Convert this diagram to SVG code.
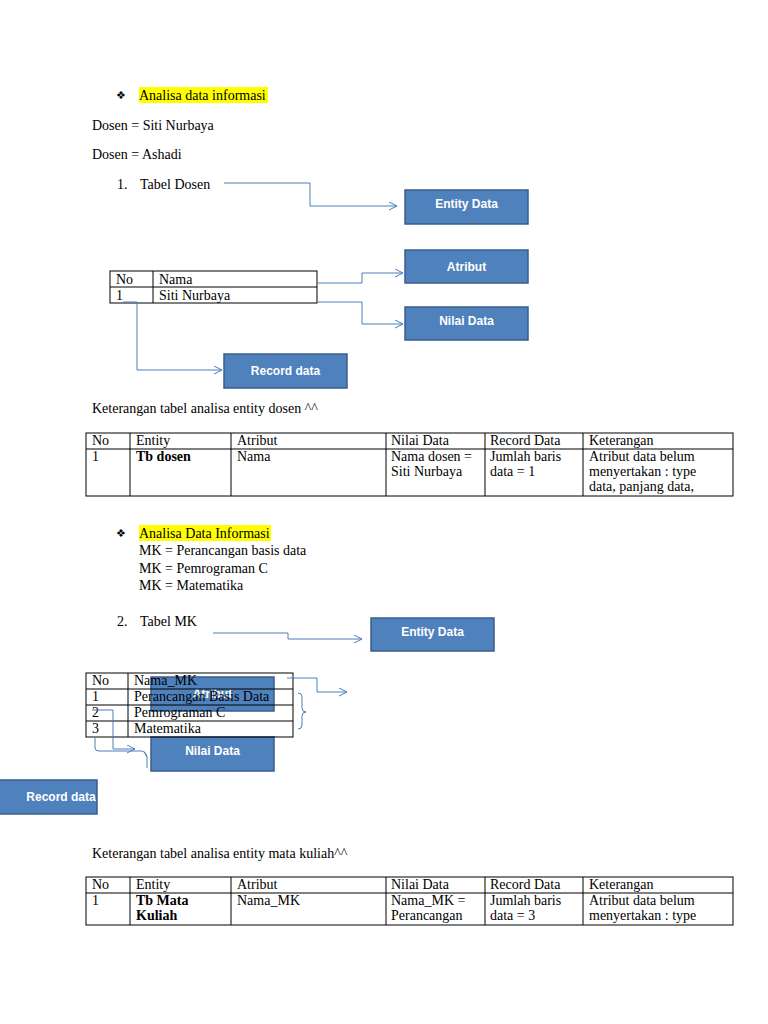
<svg xmlns="http://www.w3.org/2000/svg" width="768" height="1024" viewBox="0 0 768 1024">
<style>
.t{font-family:"Liberation Serif","Times New Roman",serif;font-size:14px;fill:#000}
.b{font-weight:bold}
.bul{font-family:"DejaVu Sans",sans-serif;font-size:11px;fill:#000}
.box{fill:#4f81bd;stroke:#385d8a;stroke-width:1.5}
.bl{font-family:"Liberation Sans",Arial,sans-serif;font-size:12px;font-weight:bold;fill:#fff;text-anchor:middle}
.tb{fill:none;stroke:#000;stroke-width:1}
.c{fill:none;stroke:#4a7ebb;stroke-width:1}
.hl{fill:#ffff00}
</style>
<defs>
<marker id="ar" markerWidth="10" markerHeight="10" refX="8" refY="4" orient="auto" markerUnits="userSpaceOnUse">
<path d="M0,0 L8,4 L0,8" fill="none" stroke="#4a7ebb" stroke-width="1"/>
</marker>
</defs>
<rect width="768" height="1024" fill="#fff"/>

<!-- Section 1 text -->
<text class="bul" x="116" y="99">❖</text>
<rect class="hl" x="139" y="87" width="129" height="16"/>
<text class="t" x="139" y="100">Analisa data informasi</text>
<text class="t" x="92" y="130">Dosen = Siti Nurbaya</text>
<text class="t" x="92" y="159">Dosen = Ashadi</text>
<text class="t" x="117" y="189">1.</text>
<text class="t" x="140" y="189">Tabel Dosen</text>

<!-- Table Dosen -->
<g id="tabel-dosen">
<rect class="tb" x="110" y="271" width="207" height="32"/>
<line class="tb" x1="110" y1="287" x2="317" y2="287"/>
<line class="tb" x1="153" y1="271" x2="153" y2="303"/>
<text class="t" x="116" y="284">No</text>
<text class="t" x="159" y="284">Nama</text>
<text class="t" x="116" y="300">1</text>
<text class="t" x="159" y="300">Siti Nurbaya</text>
</g>

<g id="entity-data-1"><rect class="box" x="405" y="190" width="123" height="34"/><text class="bl" x="466.5" y="208">Entity Data</text></g>
<g id="atribut-1"><rect class="box" x="405" y="250" width="123" height="33"/><text class="bl" x="466.5" y="271">Atribut</text></g>
<g id="nilai-data-1"><rect class="box" x="405" y="307" width="123" height="33"/><text class="bl" x="466.5" y="325">Nilai Data</text></g>
<g id="record-data-1"><rect class="box" x="224" y="354" width="123" height="34"/><text class="bl" x="285.5" y="375">Record data</text></g>

<text class="t" x="92" y="413">Keterangan tabel analisa entity dosen ^^</text>

<g id="tabel-keterangan-dosen">
<rect class="tb" x="86" y="433" width="647" height="63"/>
<line class="tb" x1="86" y1="449" x2="733" y2="449"/>
<line class="tb" x1="130" y1="433" x2="130" y2="496"/>
<line class="tb" x1="231" y1="433" x2="231" y2="496"/>
<line class="tb" x1="386" y1="433" x2="386" y2="496"/>
<line class="tb" x1="485" y1="433" x2="485" y2="496"/>
<line class="tb" x1="583" y1="433" x2="583" y2="496"/>
<text class="t" x="92" y="445">No</text>
<text class="t" x="136" y="445">Entity</text>
<text class="t" x="237" y="445">Atribut</text>
<text class="t" x="391" y="445">Nilai Data</text>
<text class="t" x="490" y="445">Record Data</text>
<text class="t" x="589" y="445">Keterangan</text>
<text class="t" x="92" y="461">1</text>
<text class="t b" x="136" y="461">Tb dosen</text>
<text class="t" x="237" y="461">Nama</text>
<text class="t" x="391" y="461">Nama dosen =</text>
<text class="t" x="391" y="476">Siti Nurbaya</text>
<text class="t" x="490" y="461">Jumlah baris</text>
<text class="t" x="490" y="476">data = 1</text>
<text class="t" x="589" y="461">Atribut data belum</text>
<text class="t" x="589" y="476">menyertakan : type</text>
<text class="t" x="589" y="491">data, panjang data,</text>
</g>

<!-- Section 2 text -->
<text class="bul" x="116" y="537">❖</text>
<rect class="hl" x="139" y="525" width="132" height="16"/>
<text class="t" x="139" y="538">Analisa Data Informasi</text>
<text class="t" x="139" y="555">MK = Perancangan basis data</text>
<text class="t" x="139" y="573">MK = Pemrograman C</text>
<text class="t" x="139" y="590">MK = Matematika</text>
<text class="t" x="117" y="626">2.</text>
<text class="t" x="140" y="626">Tabel MK</text>

<g id="entity-data-2"><rect class="box" x="371" y="618" width="123" height="33"/><text class="bl" x="432.5" y="636">Entity Data</text></g>
<g id="atribut-2"><rect class="box" x="151" y="677" width="123" height="34"/><text class="bl" x="212.5" y="698">Atribut</text></g>
<g id="nilai-data-2"><rect class="box" x="151" y="737" width="123" height="34"/><text class="bl" x="212.5" y="755">Nilai Data</text></g>
<g id="record-data-2"><rect class="box" x="-30" y="780" width="127" height="34"/><text class="bl" x="61" y="801">Record data</text></g>

<g id="tabel-mk">
<rect class="tb" x="86" y="673" width="207" height="64"/>
<line class="tb" x1="86" y1="689" x2="293" y2="689"/>
<line class="tb" x1="86" y1="705" x2="293" y2="705"/>
<line class="tb" x1="86" y1="721" x2="293" y2="721"/>
<line class="tb" x1="128" y1="673" x2="128" y2="737"/>
<text class="t" x="92" y="685">No</text>
<text class="t" x="134" y="685">Nama_MK</text>
<text class="t" x="92" y="701">1</text>
<text class="t" x="134" y="701">Perancangan Basis Data</text>
<text class="t" x="92" y="717">2</text>
<text class="t" x="134" y="717">Pemrograman C</text>
<text class="t" x="92" y="733">3</text>
<text class="t" x="134" y="733">Matematika</text>
</g>

<text class="t" x="92" y="858">Keterangan tabel analisa entity mata kuliah^^</text>

<g id="tabel-keterangan-mk">
<rect class="tb" x="86" y="877" width="647" height="48"/>
<line class="tb" x1="86" y1="893" x2="733" y2="893"/>
<line class="tb" x1="130" y1="877" x2="130" y2="925"/>
<line class="tb" x1="231" y1="877" x2="231" y2="925"/>
<line class="tb" x1="386" y1="877" x2="386" y2="925"/>
<line class="tb" x1="485" y1="877" x2="485" y2="925"/>
<line class="tb" x1="583" y1="877" x2="583" y2="925"/>
<text class="t" x="92" y="889">No</text>
<text class="t" x="136" y="889">Entity</text>
<text class="t" x="237" y="889">Atribut</text>
<text class="t" x="391" y="889">Nilai Data</text>
<text class="t" x="490" y="889">Record Data</text>
<text class="t" x="589" y="889">Keterangan</text>
<text class="t" x="92" y="905">1</text>
<text class="t b" x="136" y="905">Tb Mata</text>
<text class="t b" x="136" y="920">Kuliah</text>
<text class="t" x="237" y="905">Nama_MK</text>
<text class="t" x="391" y="905">Nama_MK =</text>
<text class="t" x="391" y="920">Perancangan</text>
<text class="t" x="490" y="905">Jumlah baris</text>
<text class="t" x="490" y="920">data = 3</text>
<text class="t" x="589" y="905">Atribut data belum</text>
<text class="t" x="589" y="920">menyertakan : type</text>
</g>

<g id="connectors">
<path class="c" d="M224 183 H310 V206 H397" marker-end="url(#ar)"/>
<path class="c" d="M317 283 H362 V273 H403" marker-end="url(#ar)"/>
<path class="c" d="M317 302 H362 V324 H403" marker-end="url(#ar)"/>
<path class="c" d="M123 302 H137 V370 H222" marker-end="url(#ar)"/>
<path class="c" d="M213 633 H288 V639 H362" marker-end="url(#ar)"/>
<path class="c" d="M287 678 H317 V692 H347" marker-end="url(#ar)"/>
<path class="c" d="M298 693 Q302 693 302 697 V708 Q302 712 306 712 Q302 712 302 716 V725 Q302 729 298 729"/>
<path class="c" d="M92 710 H113 V749 H135" marker-end="url(#ar)"/>
<path class="c" d="M95 738 V748 Q95 751 99 751 H141 Q146 751 147 757 V768"/>
<path class="c" d="M144 752 L147 757"/>
</g>
</svg>
